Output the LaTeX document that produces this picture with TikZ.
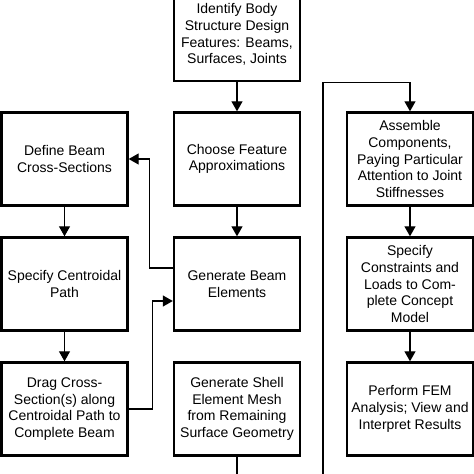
\documentclass[tikz,border=0pt]{standalone}
\usepackage{fontspec}
\setmainfont{Liberation Sans}
\usetikzlibrary{arrows.meta}

\begin{document}
\begin{tikzpicture}[x = 1pt, y = -1pt,
	box/.style = {draw, line width = 2.4pt, minimum width = 126pt, minimum height = 93pt, inner sep = 0pt, align = center, font = \fontsize{14}{16.7}\selectfont},
	link/.style = {line width = 1.3pt},
	flow/.style = {link, -{Triangle[length = 10pt, width = 11pt]}}]
	 \useasboundingbox (0, 0) rectangle (474, 474);
	 \clip (0, 0) rectangle (474, 474);
	 
	 \node[box] (identify) at (237, 34.5) {Identify Body\\Structure Design\\Features: Beams,\\Surfaces, Joints};
	 
	 \node[box] (define) at (64.5, 159) {Define Beam\\Cross-Sections};
	 \node[box] (choose) at (237, 159) {Choose Feature\\Approximations};
	 \node[box] (assemble) at (410, 159) {Assemble\\Components,\\Paying Particular\\Attention to Joint\\Stiffnesses};
	 
	 \node[box] (centroid) at (64.5, 284) {Specify Centroidal\\Path};
	 \node[box] (genbeam) at (237, 284) {Generate Beam\\Elements};
	 \node[box] (constraints) at (410, 284) {Specify\\Constraints and\\Loads to Com-\\plete Concept\\Model};
	 
	 \node[box] (drag) at (64.5, 409) {Drag Cross-\\Section(s) along\\Centroidal Path to\\Complete Beam};
	 \node[box] (genshell) at (237, 409) {Generate Shell\\Element Mesh\\from Remaining\\Surface Geometry};
	 \node[box] (fem) at (410, 409) {Perform FEM\\Analysis; View and\\Interpret Results};
	 
	 \coordinate (bus) at (323, 474);
	 \coordinate (shellout) at (237, 474);
	 
	 \draw[flow] (identify) -- (choose);
	 \draw[flow] (choose) -- (genbeam);
	 \draw[link] (genshell) -- (shellout);
	 \draw[flow] (define) -- (centroid);
	 \draw[flow] (centroid) -- (drag);
	 \draw[flow] (assemble) -- (constraints);
	 \draw[flow] (constraints) -- (fem);
	 
	 \draw[flow] ([yshift = 16pt] genbeam.west) -- ++(-23, 0) |- (define.east);
	 \draw[flow] (drag.east) -- ++(23.5, 0) |- ([yshift = -17pt] genbeam.west);
	 \draw[flow] (bus) -- (bus |- identify.south) -| (assemble.north);
\end{tikzpicture}
\end{document}
